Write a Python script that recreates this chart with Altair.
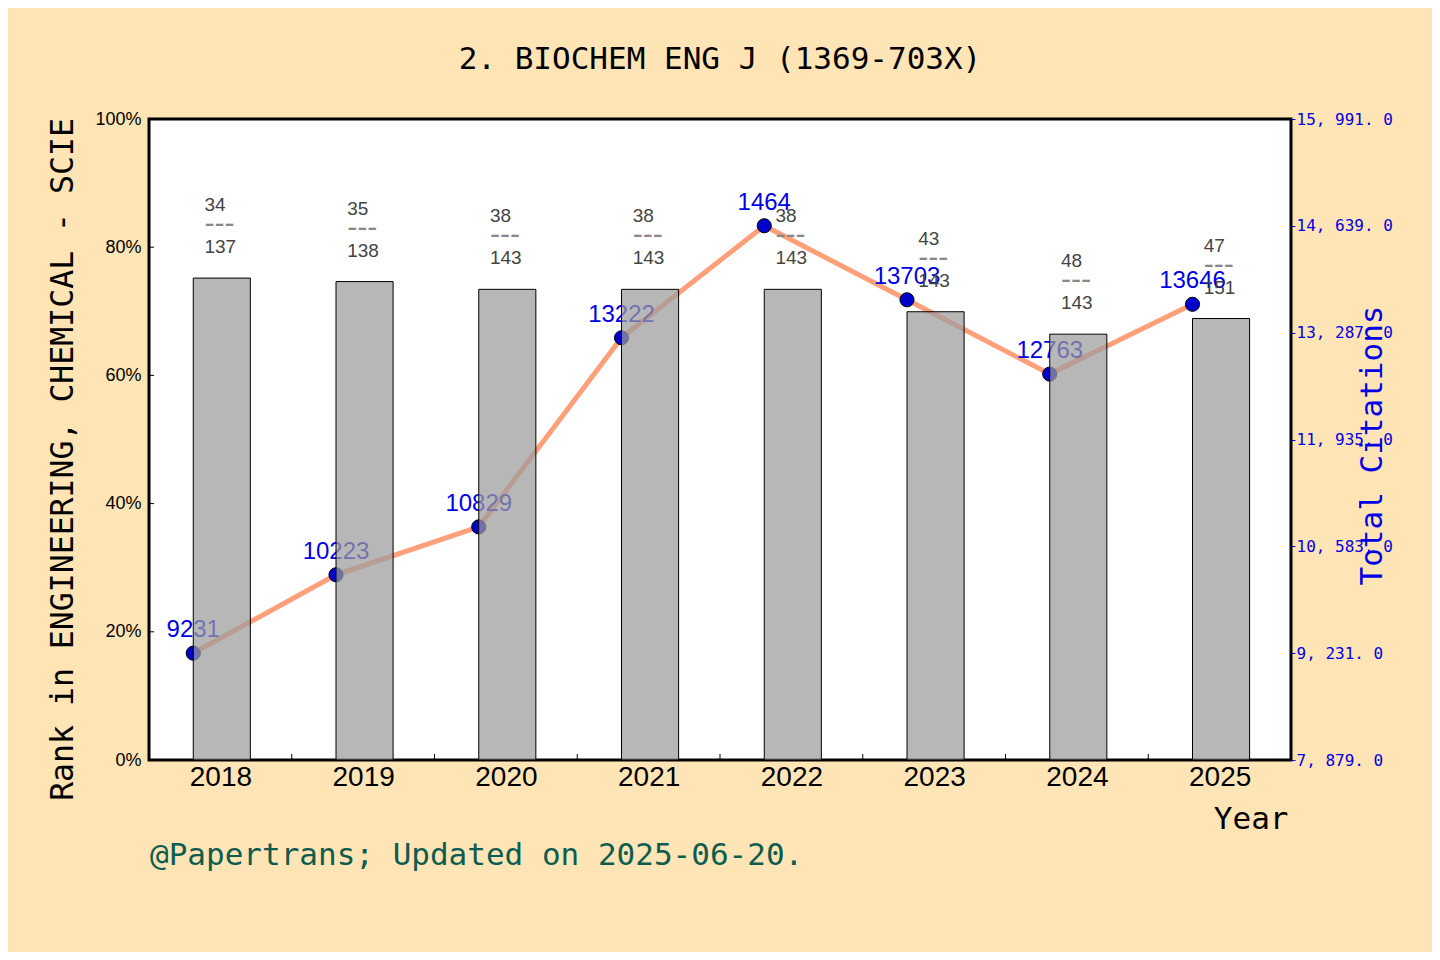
import altair as alt
import pandas as pd

# ---- data ----
years = ["2018", "2019", "2020", "2021", "2022", "2023", "2024", "2025"]
citations = [9231, 10223, 10829, 13222, 14640, 13703, 12763, 13646]
citation_labels = ["9231", "10223", "10829", "13222", "1464", "13703", "12763", "13646"]
rank = [34, 35, 38, 38, 38, 43, 48, 47]
total = [137, 138, 143, 143, 143, 143, 143, 151]
pct_ticks = [0.0, 0.2, 0.4, 0.6, 0.8, 1.0]
cit_ticks = [7879, 9231, 10583, 11935, 13287, 14639, 15991]
title_text = "2. BIOCHEM ENG J (1369-703X)"
left_title = "Rank in ENGINEERING, CHEMICAL - SCIE"
right_title = "Total Citations"
x_title = "Year"
footer = "@Papertrans; Updated on 2025-06-20."

MONO = "DejaVu Sans Mono"
SANS = "Liberation Sans"
BLUE = "#0000e6"

n = len(years)
df = pd.DataFrame({
    "idx": list(range(n)),
    "year": years,
    "cit": citations,
    "cit_label": citation_labels,
    "rank": rank,
    "total": total,
})
df["pct"] = 1 - df["rank"] / df["total"]
df["x1"] = df["idx"] - 0.19
df["x2"] = df["idx"] + 0.21
df["rank_s"] = df["rank"].astype(str)
df["total_s"] = df["total"].astype(str)
df["dash"] = "---"

tick_df = pd.DataFrame({"t": pct_ticks})
bound_df = pd.DataFrame({"b": [i + 0.5 for i in range(n - 1)]})
footer_df = pd.DataFrame({"txt": [footer]})

label_expr = "[" + ",".join(f"'{y}'" for y in years) + "][datum.value]"
xscale = alt.Scale(domain=[-0.5, n - 0.5], nice=False, zero=False)
xaxis = alt.Axis(
    values=list(range(n)), labelExpr=label_expr, ticks=False, domain=False, grid=False,
    labelFont=SANS, labelFontSize=28, labelColor="black", labelPadding=3,
    labelFlush=False, labelOverlap=False,
    title=x_title, titleFont=MONO, titleFontSize=31, titleFontWeight="normal",
    titleColor="black", titleX=1139, titleY=68, titleAlign="right",
    titleBaseline="alphabetic",
)


def X(field):
    return alt.X(f"{field}:Q", scale=xscale, axis=xaxis)


# ---- citations group (right axis) ----
yc_scale = alt.Scale(domain=[cit_ticks[0], cit_ticks[-1]], nice=False, zero=False)
yc_axis = alt.Axis(
    orient="right", values=cit_ticks,
    labelExpr="replace(replace(format(datum.value, ',.1f'), ',', ', '), '.', '. ')",
    tickColor=BLUE, tickSize=4, domain=False, grid=False,
    labelFont=MONO, labelFontSize=16, labelColor=BLUE, labelPadding=1,
    title=right_title, titleColor=BLUE, titleFont=MONO, titleFontSize=31,
    titleFontWeight="normal", titleAngle=270, titleX=81, titleY=326,
    titleAlign="center", titleBaseline="middle",
)
Yc = alt.Y("cit:Q", scale=yc_scale, axis=yc_axis)

base_c = alt.Chart(df)
line = base_c.mark_line(color="#FFA07A", strokeWidth=5).encode(x=X("x1"), y=Yc)
pts = base_c.mark_point(filled=True, size=200, fill="#0000CD", stroke="black",
                        strokeWidth=1, opacity=1).encode(x=X("x1"), y=Yc)
pt_lab = base_c.mark_text(font=SANS, fontSize=24, color=BLUE, align="center",
                          baseline="alphabetic", dy=-16).encode(
    x=X("x1"), y=Yc, text="cit_label:N")
cit_group = alt.layer(line, pts, pt_lab)

# ---- rank group (left axis) ----
yr_scale = alt.Scale(domain=[0, 1], nice=False, zero=True)
yr_axis = alt.Axis(
    orient="left", values=pct_ticks, format=".0%", ticks=False, domain=False, grid=False,
    labelFont=SANS, labelFontSize=18, labelColor="black", labelPadding=8,
    title=left_title, titleFont=MONO, titleFontSize=31.5, titleFontWeight="normal",
    titleColor="black", titleAngle=270, titleX=-86, titleY=340,
    titleAlign="center", titleBaseline="middle",
)
Yr = alt.Y("pct:Q", scale=yr_scale, axis=yr_axis)

base_r = alt.Chart(df)
bars = base_r.mark_bar(fill="#9c9c9c", fillOpacity=0.73, stroke="black",
                       strokeWidth=1, strokeOpacity=1).encode(
    x=X("x1"), x2="x2:Q", y=Yr, y2=alt.datum(0))
num = base_r.mark_text(font=SANS, fontSize=19, color="#444444", align="left",
                       baseline="alphabetic", dx=-16, dy=-67).encode(
    x=X("idx"), y=Yr, text="rank_s:N")
dash = base_r.mark_text(font="DejaVu Sans", fontSize=28, color="#888888", align="left",
                        baseline="alphabetic", dx=-16, dy=-45).encode(
    x=X("idx"), y=Yr, text="dash:N")
den = base_r.mark_text(font=SANS, fontSize=19, color="#444444", align="left",
                       baseline="alphabetic", dx=-16, dy=-25).encode(
    x=X("idx"), y=Yr, text="total_s:N")
yticks = alt.Chart(tick_df).mark_rule(color="black", strokeWidth=1).encode(
    y=alt.Y("t:Q", scale=yr_scale, axis=yr_axis), x=alt.value(0), x2=alt.value(5))
xticks = alt.Chart(bound_df).mark_rule(color="black", strokeWidth=1).encode(
    x=X("b"), y=alt.value(641), y2=alt.value(635))
foot = alt.Chart(footer_df).mark_text(font=MONO, fontSize=31, color="#0d5c4f",
                                      align="left", baseline="alphabetic").encode(
    x=alt.value(1), y=alt.value(746), text="txt:N")
rank_group = alt.layer(bars, num, dash, den, yticks, xticks, foot)

chart = alt.layer(cit_group, rank_group).resolve_scale(y="independent").properties(
    width=1142, height=641,
    autosize=alt.AutoSizeParams(type="none"),
    padding={"left": 141, "top": 111, "right": 141, "bottom": 192},
    background="#FFE4B5",
    title=alt.TitleParams(text=title_text, font=MONO, fontSize=31, fontWeight="normal",
                          color="black", anchor="middle", offset=10,
                          baseline="alphabetic"),
).configure_view(stroke="black", strokeWidth=3, fill="white")

chart.save("out.html", embed_options={"renderer": "svg", "actions": False})
